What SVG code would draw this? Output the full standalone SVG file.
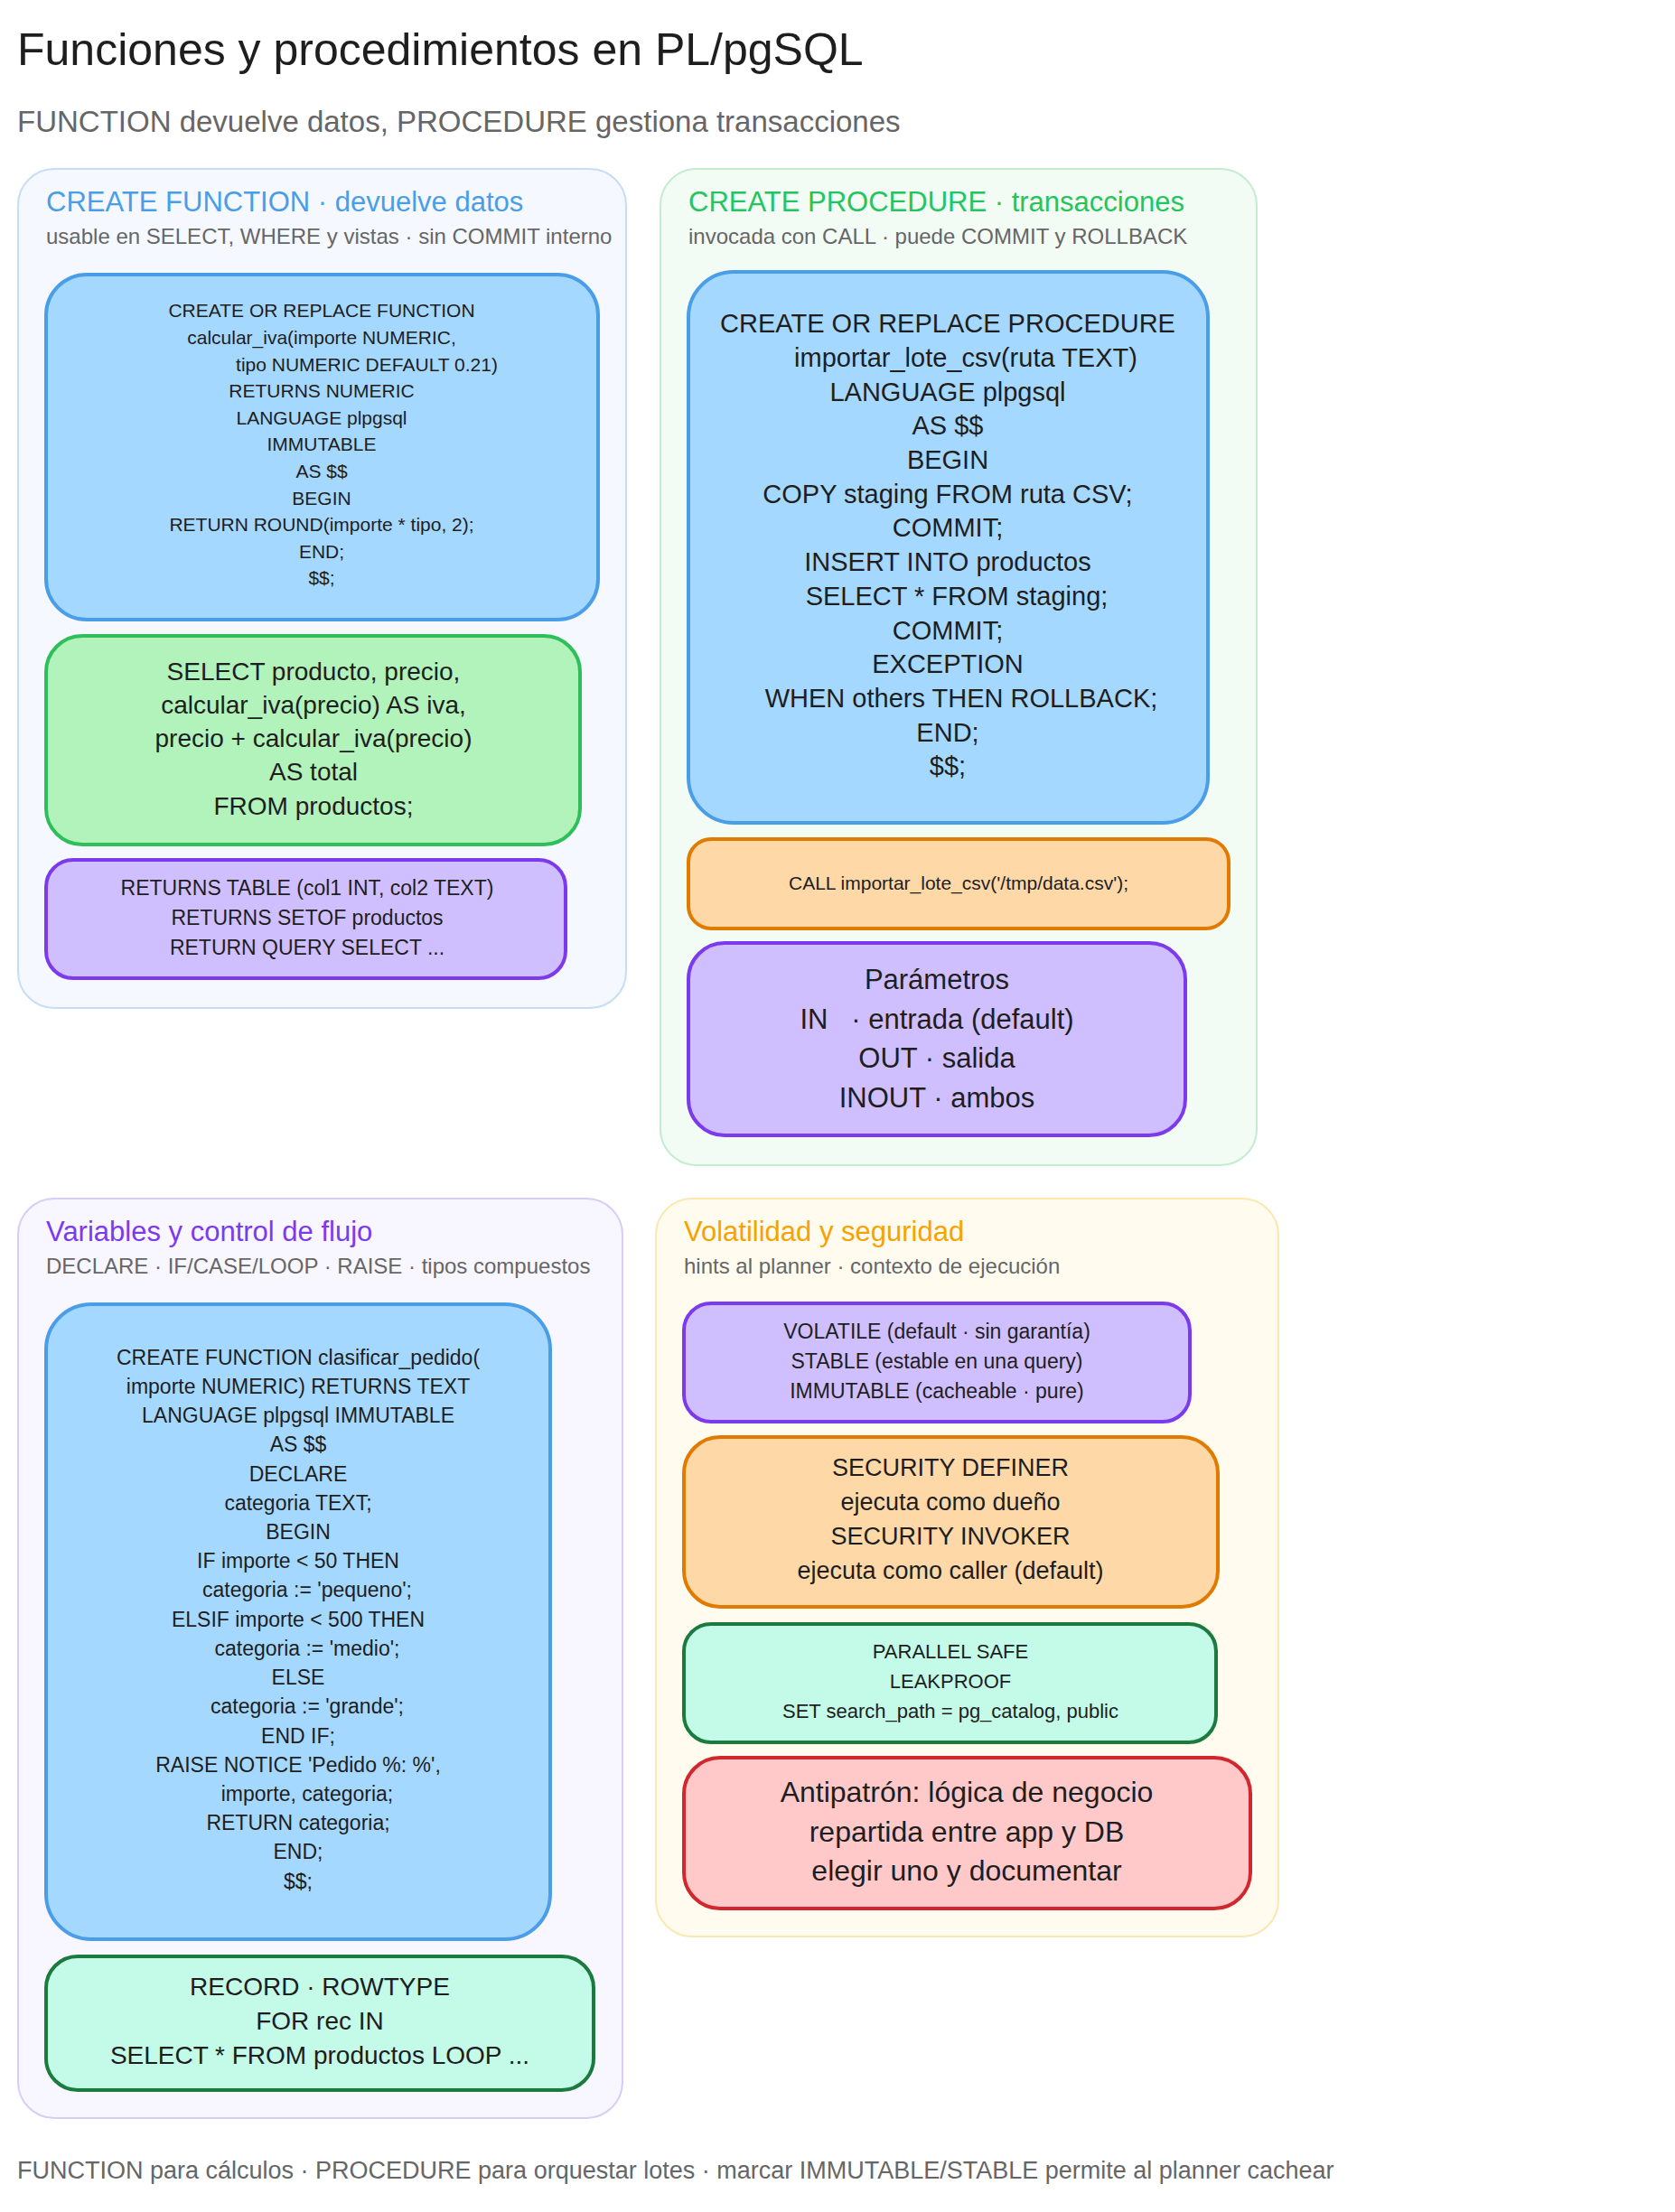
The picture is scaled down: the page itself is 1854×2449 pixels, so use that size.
<svg xmlns="http://www.w3.org/2000/svg" width="1854" height="2449" viewBox="0 0 1854 2449">
<style>
text{font-family:"Liberation Sans",Arial,sans-serif;fill:#1e1e1e}
.c{text-anchor:middle}
.pt{font-size:31px}
.ps{font-size:24px;fill:#666}
.box{stroke-width:4}
.blue{fill:#a5d8ff;stroke:#4a9ee8}
.green{fill:#b2f2bb;stroke:#2fbf5a}
.purple{fill:#d0bfff;stroke:#7c3aed}
.orange{fill:#ffd8a8;stroke:#e07b00}
.mint{fill:#c3fae8;stroke:#1b7a3e}
.red{fill:#ffc9c9;stroke:#d0282e}
.panel{stroke-width:2}
</style>
<rect width="1854" height="2449" fill="#ffffff"/>
<text x="19" y="72" style="font-size:50px">Funciones y procedimientos en PL/pgSQL</text>
<text x="19" y="146" style="font-size:33px;fill:#666">FUNCTION devuelve datos, PROCEDURE gestiona transacciones</text>

<g id="panel-function">
<rect class="panel" x="20" y="187" width="673" height="929" rx="40" fill="#f5f8ff" stroke="#c7dcf5"/>
<text class="pt" x="51" y="234" fill="#4a9ee8" style="fill:#4a9ee8">CREATE FUNCTION · devuelve datos</text>
<text class="ps" x="51" y="270">usable en SELECT, WHERE y vistas · sin COMMIT interno</text>
</g>
<g id="node-func-code">
<rect class="box blue" x="51" y="304" width="611" height="382" rx="45"/>
<g style="font-size:21px" class="c">
<text x="356" y="351">CREATE OR REPLACE FUNCTION</text>
<text x="356" y="381">calcular_iva(importe NUMERIC,</text>
<text x="406" y="411">tipo NUMERIC DEFAULT 0.21)</text>
<text x="356" y="440">RETURNS NUMERIC</text>
<text x="356" y="470">LANGUAGE plpgsql</text>
<text x="356" y="499">IMMUTABLE</text>
<text x="356" y="529">AS $$</text>
<text x="356" y="559">BEGIN</text>
<text x="356" y="588">RETURN ROUND(importe * tipo, 2);</text>
<text x="356" y="618">END;</text>
<text x="356" y="647">$$;</text>
</g>
</g>
<g id="node-select">
<rect class="box green" x="51" y="704" width="591" height="231" rx="40"/>
<g style="font-size:28px" class="c">
<text x="347" y="753">SELECT producto, precio,</text>
<text x="347" y="790">calcular_iva(precio) AS iva,</text>
<text x="347" y="827">precio + calcular_iva(precio)</text>
<text x="347" y="864">AS total</text>
<text x="347" y="902">FROM productos;</text>
</g>
</g>
<g id="node-returns">
<rect class="box purple" x="51" y="952" width="575" height="131" rx="30"/>
<g style="font-size:23px" class="c">
<text x="340" y="991">RETURNS TABLE (col1 INT, col2 TEXT)</text>
<text x="340" y="1024">RETURNS SETOF productos</text>
<text x="340" y="1057">RETURN QUERY SELECT ...</text>
</g>
</g>

<g id="panel-procedure">
<rect class="panel" x="731" y="187" width="660" height="1103" rx="40" fill="#f2fbf4" stroke="#c4ecd0"/>
<text class="pt" x="762" y="234" style="fill:#22c55e">CREATE PROCEDURE · transacciones</text>
<text class="ps" x="762" y="270">invocada con CALL · puede COMMIT y ROLLBACK</text>
</g>
<g id="node-proc-code">
<rect class="box blue" x="762" y="301" width="575" height="610" rx="50"/>
<g style="font-size:29px" class="c">
<text x="1049" y="368">CREATE OR REPLACE PROCEDURE</text>
<text x="1069" y="406">importar_lote_csv(ruta TEXT)</text>
<text x="1049" y="444">LANGUAGE plpgsql</text>
<text x="1049" y="481">AS $$</text>
<text x="1049" y="519">BEGIN</text>
<text x="1049" y="557">COPY staging FROM ruta CSV;</text>
<text x="1049" y="594">COMMIT;</text>
<text x="1049" y="632">INSERT INTO productos</text>
<text x="1059" y="670">SELECT * FROM staging;</text>
<text x="1049" y="708">COMMIT;</text>
<text x="1049" y="745">EXCEPTION</text>
<text x="1064" y="783">WHEN others THEN ROLLBACK;</text>
<text x="1049" y="821">END;</text>
<text x="1049" y="858">$$;</text>
</g>
</g>
<g id="node-call">
<rect class="box orange" x="762" y="929" width="598" height="99" rx="25"/>
<text class="c" x="1061" y="985" style="font-size:21px">CALL importar_lote_csv('/tmp/data.csv');</text>
</g>
<g id="node-params">
<rect class="box purple" x="762" y="1044" width="550" height="213" rx="40"/>
<g style="font-size:31px" class="c">
<text x="1037" y="1095">Parámetros</text>
<text x="1037" y="1139" xml:space="preserve">IN   · entrada (default)</text>
<text x="1037" y="1182">OUT · salida</text>
<text x="1037" y="1226">INOUT · ambos</text>
</g>
</g>

<g id="panel-variables">
<rect class="panel" x="20" y="1327" width="669" height="1018" rx="40" fill="#f8f6ff" stroke="#d9ccf7"/>
<text class="pt" x="51" y="1374" style="fill:#7c3aed">Variables y control de flujo</text>
<text class="ps" x="51" y="1410">DECLARE · IF/CASE/LOOP · RAISE · tipos compuestos</text>
</g>
<g id="node-var-code">
<rect class="box blue" x="51" y="1444" width="558" height="703" rx="50"/>
<g style="font-size:23px" class="c">
<text x="330" y="1511">CREATE FUNCTION clasificar_pedido(</text>
<text x="330" y="1543">importe NUMERIC) RETURNS TEXT</text>
<text x="330" y="1575">LANGUAGE plpgsql IMMUTABLE</text>
<text x="330" y="1607">AS $$</text>
<text x="330" y="1640">DECLARE</text>
<text x="330" y="1672">categoria TEXT;</text>
<text x="330" y="1704">BEGIN</text>
<text x="330" y="1736">IF importe &lt; 50 THEN</text>
<text x="340" y="1768">categoria := 'pequeno';</text>
<text x="330" y="1801">ELSIF importe &lt; 500 THEN</text>
<text x="340" y="1833">categoria := 'medio';</text>
<text x="330" y="1865">ELSE</text>
<text x="340" y="1897">categoria := 'grande';</text>
<text x="330" y="1930">END IF;</text>
<text x="330" y="1962">RAISE NOTICE 'Pedido %: %',</text>
<text x="340" y="1994">importe, categoria;</text>
<text x="330" y="2026">RETURN categoria;</text>
<text x="330" y="2058">END;</text>
<text x="330" y="2091">$$;</text>
</g>
</g>
<g id="node-record">
<rect class="box mint" x="51" y="2166" width="606" height="148" rx="35"/>
<g style="font-size:28px" class="c">
<text x="354" y="2209">RECORD · ROWTYPE</text>
<text x="354" y="2247">FOR rec IN</text>
<text x="354" y="2285">SELECT * FROM productos LOOP ...</text>
</g>
</g>

<g id="panel-volatility">
<rect class="panel" x="726" y="1327" width="689" height="817" rx="40" fill="#fffbef" stroke="#fbe7b0"/>
<text class="pt" x="757" y="1374" style="fill:#f5a300">Volatilidad y seguridad</text>
<text class="ps" x="757" y="1410">hints al planner · contexto de ejecución</text>
</g>
<g id="node-volatile">
<rect class="box purple" x="757" y="1443" width="560" height="131" rx="30"/>
<g style="font-size:23px" class="c" xml:space="preserve">
<text x="1037" y="1482">VOLATILE  (default · sin garantía)</text>
<text x="1037" y="1515">STABLE     (estable en una query)</text>
<text x="1037" y="1548">IMMUTABLE (cacheable · pure)</text>
</g>
</g>
<g id="node-security">
<rect class="box orange" x="757" y="1591" width="591" height="188" rx="40"/>
<g style="font-size:27px" class="c">
<text x="1052" y="1634">SECURITY DEFINER</text>
<text x="1052" y="1672">ejecuta como dueño</text>
<text x="1052" y="1710">SECURITY INVOKER</text>
<text x="1052" y="1748">ejecuta como caller (default)</text>
</g>
</g>
<g id="node-parallel">
<rect class="box mint" x="757" y="1798" width="589" height="131" rx="30"/>
<g style="font-size:22px" class="c">
<text x="1052" y="1836">PARALLEL SAFE</text>
<text x="1052" y="1869">LEAKPROOF</text>
<text x="1052" y="1902">SET search_path = pg_catalog, public</text>
</g>
</g>
<g id="node-antipattern">
<rect class="box red" x="757" y="1946" width="627" height="167" rx="40"/>
<g style="font-size:32px" class="c">
<text x="1070" y="1995">Antipatrón: lógica de negocio</text>
<text x="1070" y="2039">repartida entre app y DB</text>
<text x="1070" y="2082">elegir uno y documentar</text>
</g>
</g>
<g id="connectors"></g>
<text x="19" y="2412" style="font-size:27px;fill:#666">FUNCTION para cálculos · PROCEDURE para orquestar lotes · marcar IMMUTABLE/STABLE permite al planner cachear</text>
</svg>
